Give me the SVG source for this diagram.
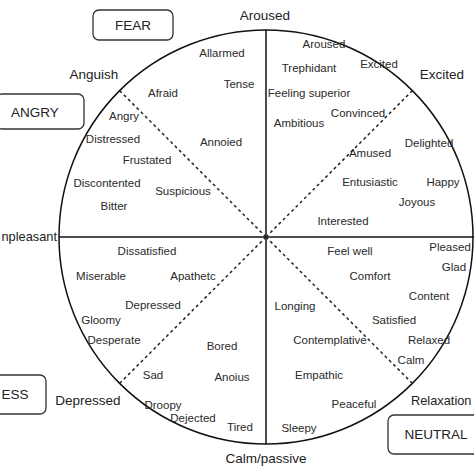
<svg xmlns="http://www.w3.org/2000/svg" width="474" height="474" viewBox="0 0 474 474">
<style>
text{font-family:"Liberation Sans",Arial,sans-serif;fill:#2a2a2a;text-anchor:middle}
.in{font-size:11.5px}
.out{font-size:13.5px;fill:#222}
.edge{font-size:12.8px}
.box{fill:#fff;stroke:#333;stroke-width:1.3}
.axis{stroke:#111;stroke-width:1.5;fill:none}
.dash{stroke:#222;stroke-width:1.5;stroke-dasharray:3 3;fill:none}
</style>
<rect width="474" height="474" fill="#fff"/>
<g id="connectors">
<circle class="axis" cx="266" cy="237" r="207"/>
<line class="axis" x1="266" y1="30" x2="266" y2="444"/>
<line class="axis" x1="59" y1="237" x2="474" y2="237"/>
<line class="dash" x1="266" y1="237" x2="120" y2="91"/>
<line class="dash" x1="266" y1="237" x2="412" y2="91"/>
<line class="dash" x1="266" y1="237" x2="120" y2="383"/>
<line class="dash" x1="266" y1="237" x2="412" y2="383"/>
</g>
<g id="fear"><rect class="box" x="93" y="10" width="80" height="30" rx="6"/><text class="out" x="133" y="30">FEAR</text></g>
<g id="angry"><rect class="box" x="-4" y="94" width="88" height="35" rx="6"/><text class="out" x="35" y="117">ANGRY</text></g>
<g id="sadness"><rect class="box" x="-60" y="375" width="106" height="39" rx="6"/><text class="out" x="15" y="399">ESS</text></g>
<g id="neutral"><rect class="box" x="388" y="415" width="100" height="39" rx="6"/><text class="out" x="436" y="439">NEUTRAL</text></g>
<g id="outer">
<text class="out" x="265" y="20">Aroused</text>
<text class="out" x="94" y="79">Anguish</text>
<text class="out" x="442" y="79">Excited</text>
<text class="out edge" x="57" y="241" style="text-anchor:end">npleasant</text>
<text class="out" x="88" y="405">Depressed</text>
<text class="out edge" x="411" y="405" style="text-anchor:start">Relaxation</text>
<text class="out" x="266" y="463">Calm/passive</text>
</g>
<g id="labels" class="in">
<text class="in" x="222" y="57">Allarmed</text>
<text class="in" x="239" y="88">Tense</text>
<text class="in" x="163" y="97">Afraid</text>
<text class="in" x="124" y="120">Angry</text>
<text class="in" x="113" y="143">Distressed</text>
<text class="in" x="147" y="164">Frustated</text>
<text class="in" x="221" y="146">Annoied</text>
<text class="in" x="107" y="187">Discontented</text>
<text class="in" x="183" y="195">Suspicious</text>
<text class="in" x="114" y="210">Bitter</text>
<text class="in" x="324" y="48">Aroused</text>
<text class="in" x="309" y="72">Trephidant</text>
<text class="in" x="379" y="68">Excited</text>
<text class="in" x="309" y="97">Feeling superior</text>
<text class="in" x="358" y="117">Convinced</text>
<text class="in" x="299" y="127">Ambitious</text>
<text class="in" x="429" y="147">Delighted</text>
<text class="in" x="370" y="157">Amused</text>
<text class="in" x="370" y="186">Entusiastic</text>
<text class="in" x="443" y="186">Happy</text>
<text class="in" x="417" y="206">Joyous</text>
<text class="in" x="343" y="225">Interested</text>
<text class="in" x="147" y="255">Dissatisfied</text>
<text class="in" x="101" y="280">Miserable</text>
<text class="in" x="193" y="280">Apathetc</text>
<text class="in" x="153" y="309">Depressed</text>
<text class="in" x="101" y="324">Gloomy</text>
<text class="in" x="114" y="344">Desperate</text>
<text class="in" x="222" y="350">Bored</text>
<text class="in" x="153" y="379">Sad</text>
<text class="in" x="232" y="381">Anoius</text>
<text class="in" x="163" y="409">Droopy</text>
<text class="in" x="193" y="422">Dejected</text>
<text class="in" x="240" y="431">Tired</text>
<text class="in" x="350" y="255">Feel well</text>
<text class="in" x="450" y="251">Pleased</text>
<text class="in" x="454" y="271">Glad</text>
<text class="in" x="370" y="280">Comfort</text>
<text class="in" x="429" y="300">Content</text>
<text class="in" x="295" y="310">Longing</text>
<text class="in" x="394" y="324">Satisfied</text>
<text class="in" x="330" y="344">Contemplative</text>
<text class="in" x="429" y="344">Relaxed</text>
<text class="in" x="411" y="364">Calm</text>
<text class="in" x="319" y="379">Empathic</text>
<text class="in" x="354" y="408">Peaceful</text>
<text class="in" x="299" y="432">Sleepy</text>
</g>
</svg>
